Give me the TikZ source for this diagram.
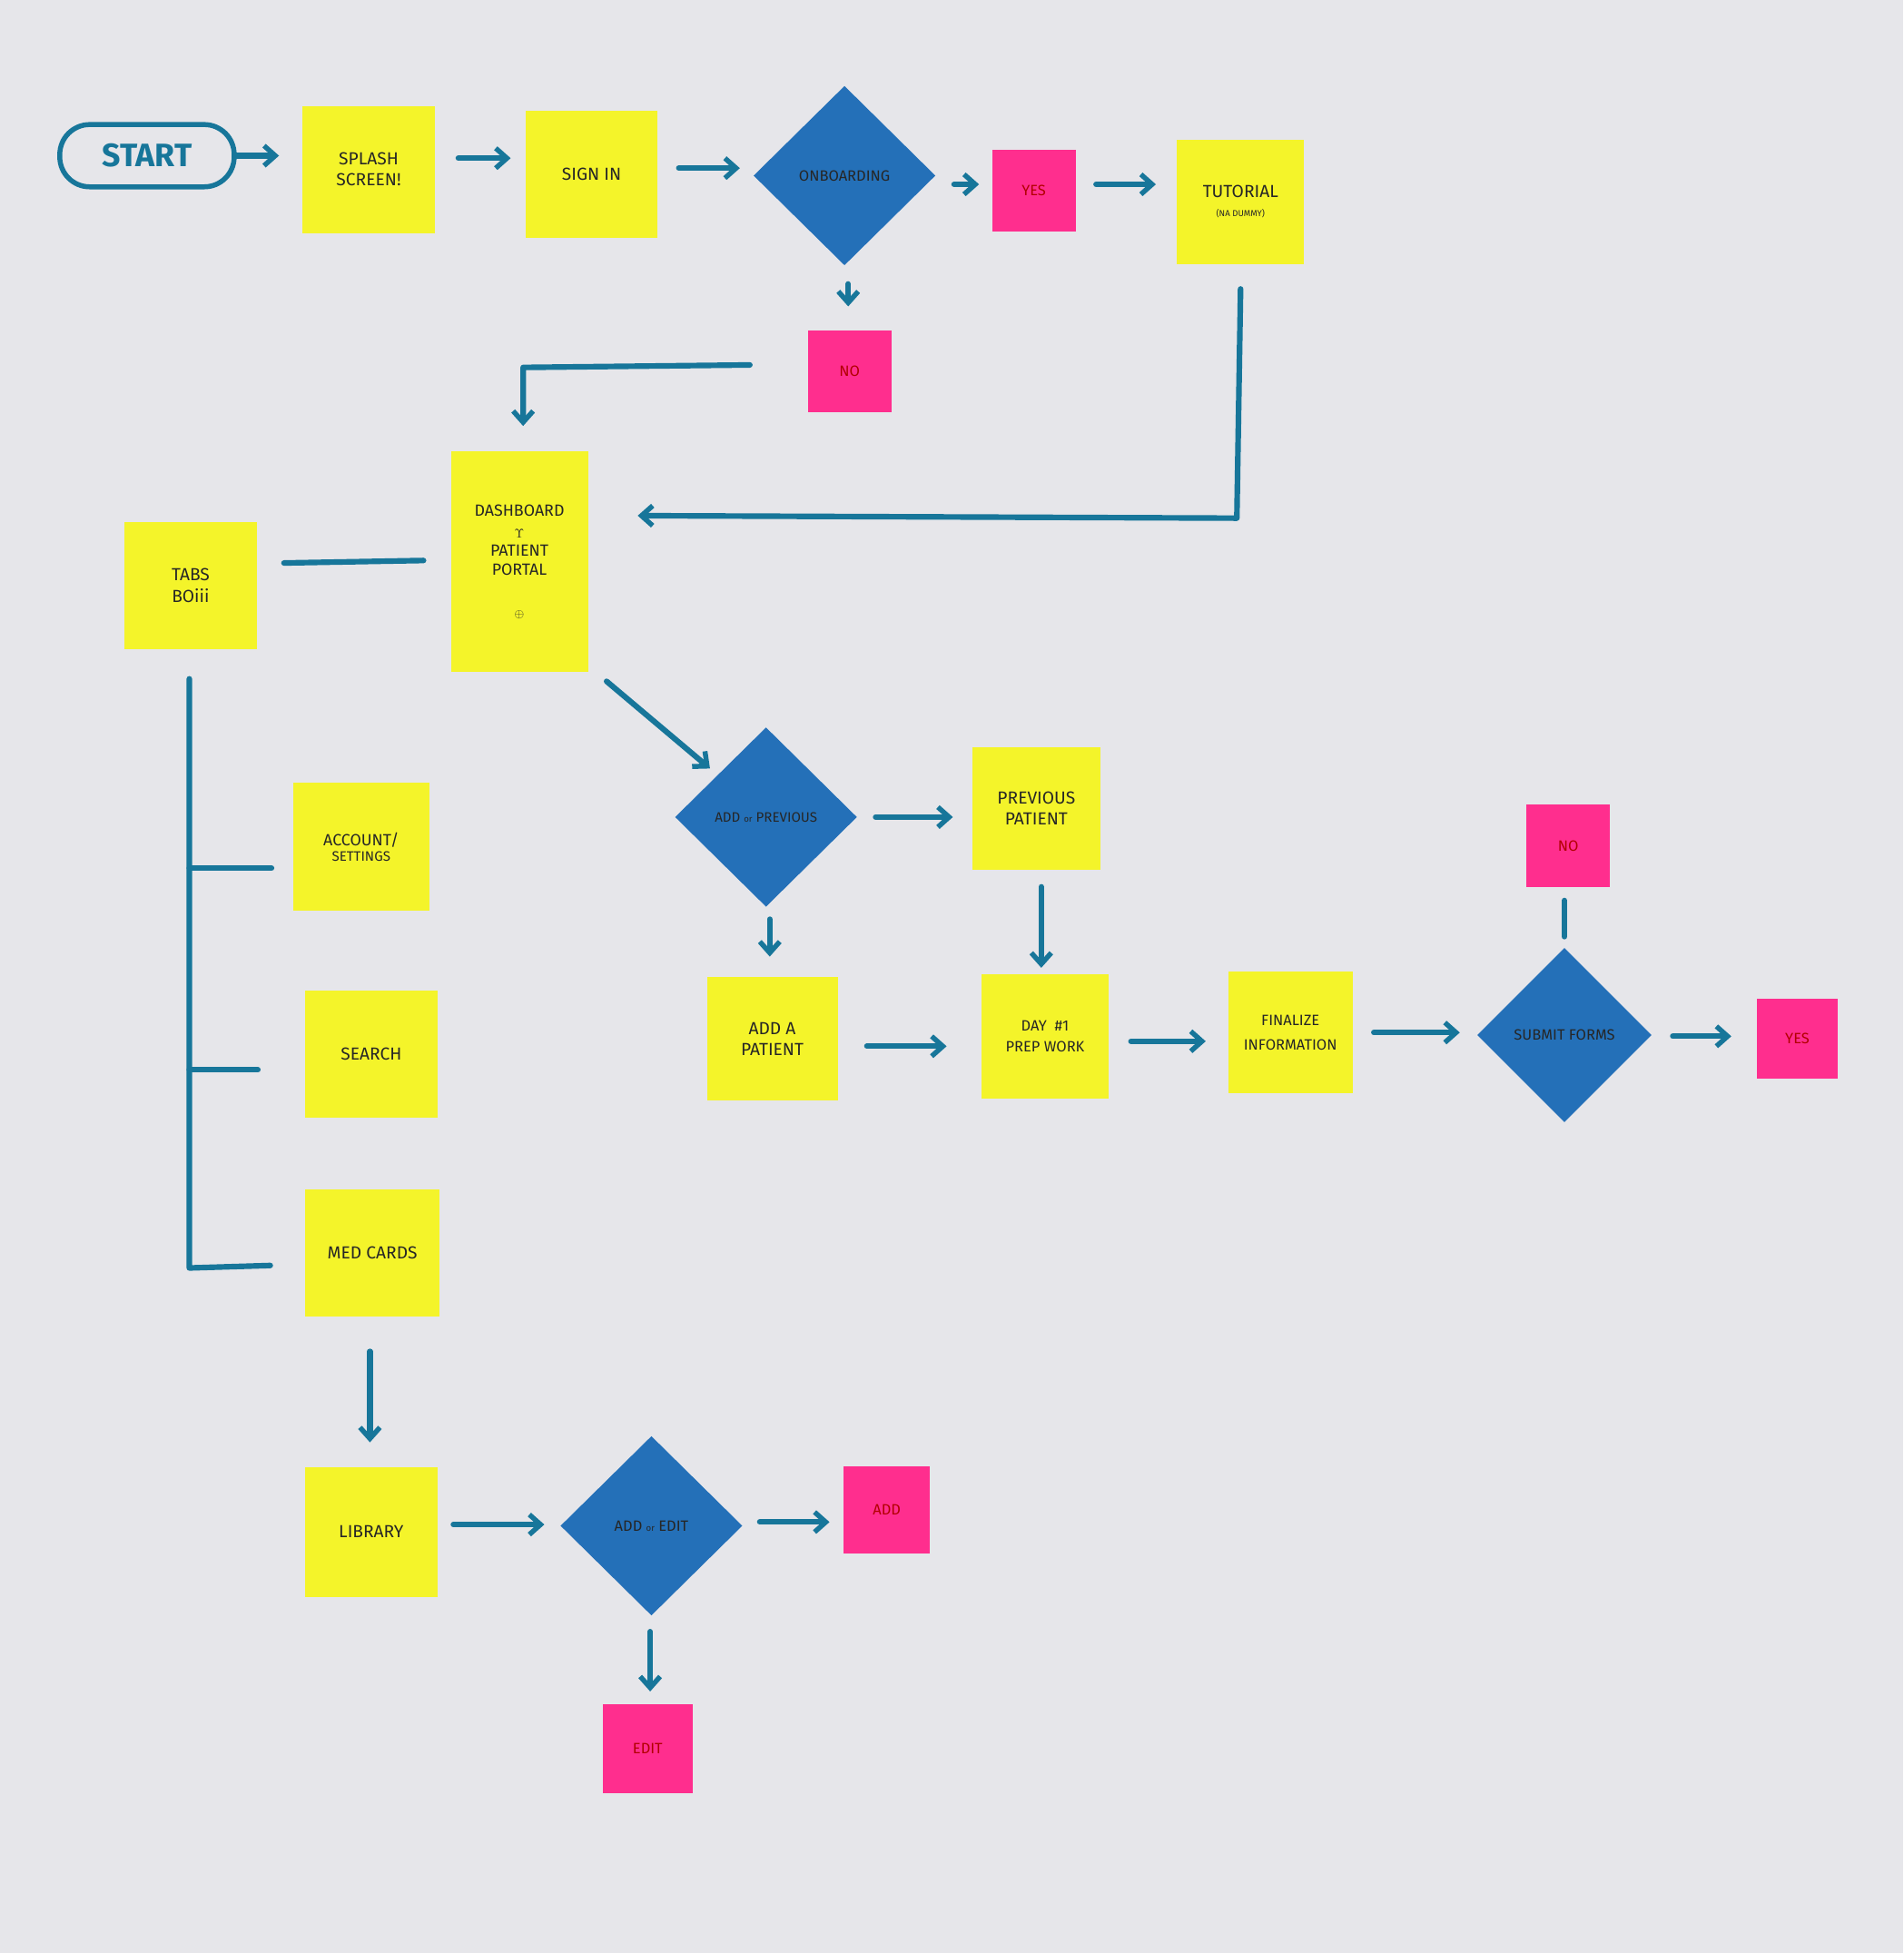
\documentclass[tikz,border=0pt]{standalone}
\usepackage{fontspec}
\setmainfont{Fira Sans}
\usetikzlibrary{shapes.geometric,arrows.meta}
\definecolor{bg}{HTML}{E6E6EA}
\definecolor{ylw}{HTML}{F4F42A}
\definecolor{blu}{HTML}{2470B8}
\definecolor{pnk}{HTML}{FF2E8E}
\definecolor{ink}{HTML}{17769A}
\begin{document}
\begin{tikzpicture}[x=1pt,y=-1pt,
  note/.style={fill=ylw,draw=none,minimum width=106pt,minimum height=102pt,inner sep=2pt,align=center,font=\fontsize{14}{17}\selectfont,text=black!85},
  pnote/.style={fill=pnk,draw=none,minimum width=67pt,minimum height=66pt,inner sep=1pt,font=\fontsize{12}{14}\selectfont,text=red!70!black},
  dia/.style={diamond,fill=blu,draw=none,minimum width=146pt,minimum height=144pt,inner sep=0pt,font=\fontsize{12}{14}\selectfont,text=black!85},
  ln/.style={draw=ink,line width=4.5pt,line cap=round,line join=round},
  arr/.style={ln,-{Straight Barb[length=9pt,width=16pt,line width=4pt]}}]
\fill[bg] (0,0) rectangle (1528,1568);
\useasboundingbox (0,0) rectangle (1528,1568);
% nodes
\node[draw=ink,line width=4pt,rounded corners=24pt,minimum width=140pt,minimum height=50pt,text=ink,font=\bfseries\fontsize{26}{28}\selectfont] (start) at (118,125) {START};
\node[note] (splash) at (296,136) {SPLASH\\SCREEN!};
\node[note] (signin) at (475,140) {SIGN IN};
\node[dia] (onb) at (678,141) {ONBOARDING};
\node[pnote] (yes1) at (830,153) {YES};
\node[note,minimum width=102pt,minimum height=100pt] (tut) at (996,162) {TUTORIAL\\[-2pt]{\fontsize{7}{8}\selectfont (NA DUMMY)}};
\node[pnote] (no1) at (682,298) {NO};
\node[note,minimum width=110pt,minimum height=177pt,font=\fontsize{13}{16}\selectfont] (dash) at (417,451) {DASHBOARD\\[2pt]{\fontsize{10}{10}\selectfont$\Upsilon$}\\[-2pt]PATIENT\\PORTAL\\[18pt]{\fontsize{10}{10}\selectfont$\oplus$}};
\node[note] (tabs) at (153,470) {TABS\\BOiii};
\node[dia,font=\fontsize{11}{13}\selectfont] (addprev) at (615,656) {ADD {\fontsize{7}{8}\selectfont or} PREVIOUS};
\node[note,minimum width=103pt,minimum height=98pt] (prev) at (832,649) {PREVIOUS\\PATIENT};
\node[note,minimum width=105pt,minimum height=99pt] (addpat) at (620,834) {ADD A\\PATIENT};
\node[note,minimum width=102pt,minimum height=100pt,font=\fontsize{12}{17}\selectfont] (day) at (839,832) {DAY \ \#1\\PREP WORK};
\node[note,minimum width=100pt,minimum height=98pt,font=\fontsize{12}{20}\selectfont] (fin) at (1036,829) {FINALIZE\\INFORMATION};
\node[dia,minimum width=140pt,minimum height=140pt] (submit) at (1256,831) {SUBMIT FORMS};
\node[pnote] (no2) at (1259,679) {NO};
\node[pnote,minimum width=65pt,minimum height=64pt] (yes2) at (1443,834) {YES};
\node[note,minimum width=109pt,minimum height=103pt,font=\fontsize{13}{13}\selectfont] (acct) at (290,680) {ACCOUNT/\\{\fontsize{11}{11}\selectfont SETTINGS}};
\node[note] (search) at (298,846) {SEARCH};
\node[note,minimum width=108pt] (med) at (299,1006) {MED CARDS};
\node[note,minimum height=104pt] (lib) at (298,1230) {LIBRARY};
\node[dia] (addedit) at (523,1225) {ADD {\fontsize{7}{8}\selectfont or} EDIT};
\node[pnote,minimum width=69pt,minimum height=70pt] (add) at (712,1212) {ADD};
\node[pnote,minimum width=72pt,minimum height=72pt] (edit) at (520,1404) {EDIT};
% connectors
\draw[arr] (190,125) -- (224,125);
\draw[arr] (368,127) -- (410,127);
\draw[arr] (545,135) -- (594,135);
\draw[arr] (766,148) -- (786,148);
\draw[arr] (880,148) -- (928,148);
\draw[arr] (681,228) -- (681,246);
\draw[arr] (602,293) -- (420,295) -- (420,342);
\draw[arr] (996,232) -- (993,416) -- (512,414);
\draw[ln] (228,452) -- (340,450);
\draw[arr] (487,547) -- (570,617);
\draw[arr] (703,656) -- (765,656);
\draw[arr] (618,738) -- (618,768);
\draw[arr] (836,712) -- (836,777);
\draw[arr] (696,840) -- (760,840);
\draw[arr] (908,836) -- (968,836);
\draw[arr] (1103,829) -- (1172,829);
\draw[arr] (1343,832) -- (1390,832);
\draw[ln] (1256,752) -- (1256,723);
\draw[ln] (152,545) -- (152,1018) -- (217,1016);
\draw[ln] (152,697) -- (218,697);
\draw[ln] (152,859) -- (207,859);
\draw[arr] (297,1085) -- (297,1158);
\draw[arr] (364,1224) -- (437,1224);
\draw[arr] (610,1222) -- (666,1222);
\draw[arr] (522,1310) -- (522,1358);
\end{tikzpicture}
\end{document}
